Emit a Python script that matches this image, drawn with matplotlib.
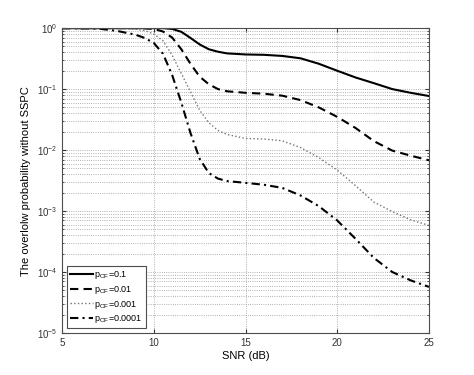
import numpy as np
import matplotlib
matplotlib.use('Agg')
import matplotlib.pyplot as plt

plt.rcParams['font.family'] = ['Liberation Sans', 'DejaVu Sans']
plt.rcParams['mathtext.fontset'] = 'custom'
plt.rcParams['mathtext.rm'] = 'Liberation Sans'
plt.rcParams['mathtext.it'] = 'Liberation Sans'
plt.rcParams['font.size'] = 7

# SNR (dB) and overflow probability
snr = [5, 7, 8, 9, 9.5, 10, 10.5, 11, 11.5, 12, 12.5, 13, 13.5, 14, 15, 16, 17, 18, 19, 20, 21, 22, 23, 24, 25]

p_01 = [1, 1, 1, 1, 1, 1, 1, 0.97, 0.87, 0.69, 0.54, 0.45, 0.41, 0.385, 0.37, 0.365, 0.35, 0.32, 0.26, 0.2,
        0.155, 0.125, 0.1, 0.087, 0.077]
p_001 = [1, 1, 1, 1, 0.99, 0.97, 0.88, 0.7, 0.45, 0.26, 0.16, 0.12, 0.1, 0.092, 0.087, 0.084, 0.078, 0.066,
         0.05, 0.035, 0.023, 0.014, 0.0098, 0.0081, 0.0068]
p_0001 = [1, 1, 0.99, 0.96, 0.91, 0.8, 0.62, 0.36, 0.18, 0.09, 0.045, 0.028, 0.021, 0.018, 0.0155, 0.0152,
          0.0142, 0.011, 0.0075, 0.0047, 0.0026, 0.0014, 0.00098, 0.00072, 0.00058]
p_00001 = [1, 0.98, 0.9, 0.78, 0.69, 0.57, 0.38, 0.17, 0.06, 0.019, 0.0072, 0.0042, 0.0034, 0.0031, 0.0029,
           0.0027, 0.0024, 0.0018, 0.0012, 0.0007, 0.00035, 0.00017, 0.0001, 7.3e-5, 5.7e-5]

labels = ['p$_{OF}$=0.1', 'p$_{OF}$=0.01', 'p$_{OF}$=0.001', 'p$_{OF}$=0.0001']

fig = plt.figure(figsize=(4.74, 3.75), dpi=100)
ax = fig.add_axes([0.131, 0.112, 0.774, 0.813])

ax.semilogy(snr, p_01, 'k-', linewidth=1.5, label=labels[0])
ax.semilogy(snr, p_001, 'k--', linewidth=1.5, dashes=(4, 2.5), label=labels[1])
ax.semilogy(snr, p_0001, ':', color='0.45', linewidth=1.0, label=labels[2])
ax.semilogy(snr, p_00001, 'k-.', linewidth=1.5, dashes=(4, 2, 1, 2), label=labels[3])

ax.set_xlim(5, 25)
ax.set_ylim(1e-5, 1)
ax.set_xticks([5, 10, 15, 20, 25])
ax.grid(True, which='major', linestyle=':', color='0.6', linewidth=0.6)
ax.grid(True, which='minor', axis='y', linestyle=':', color='0.6', linewidth=0.6)
ax.tick_params(which='both', direction='in', top=True, right=True, labelsize=7, colors='0.2')
ax.tick_params(which='major', length=3)
ax.tick_params(which='minor', length=1.5)
for s in ax.spines.values():
    s.set_color('0.3')

ax.set_xlabel('SNR (dB)', fontsize=8, labelpad=2)
ax.set_ylabel('The overlolw probability without SSPC', fontsize=8, labelpad=4)

leg = ax.legend(loc='lower left', fontsize=6.5, fancybox=False, framealpha=1, edgecolor='0.3',
                handlelength=2.6, borderaxespad=0.5, labelspacing=0.3, handletextpad=0.1,
                borderpad=0.35)
leg.get_frame().set_linewidth(0.8)

fig.savefig('out.png', dpi=100)
